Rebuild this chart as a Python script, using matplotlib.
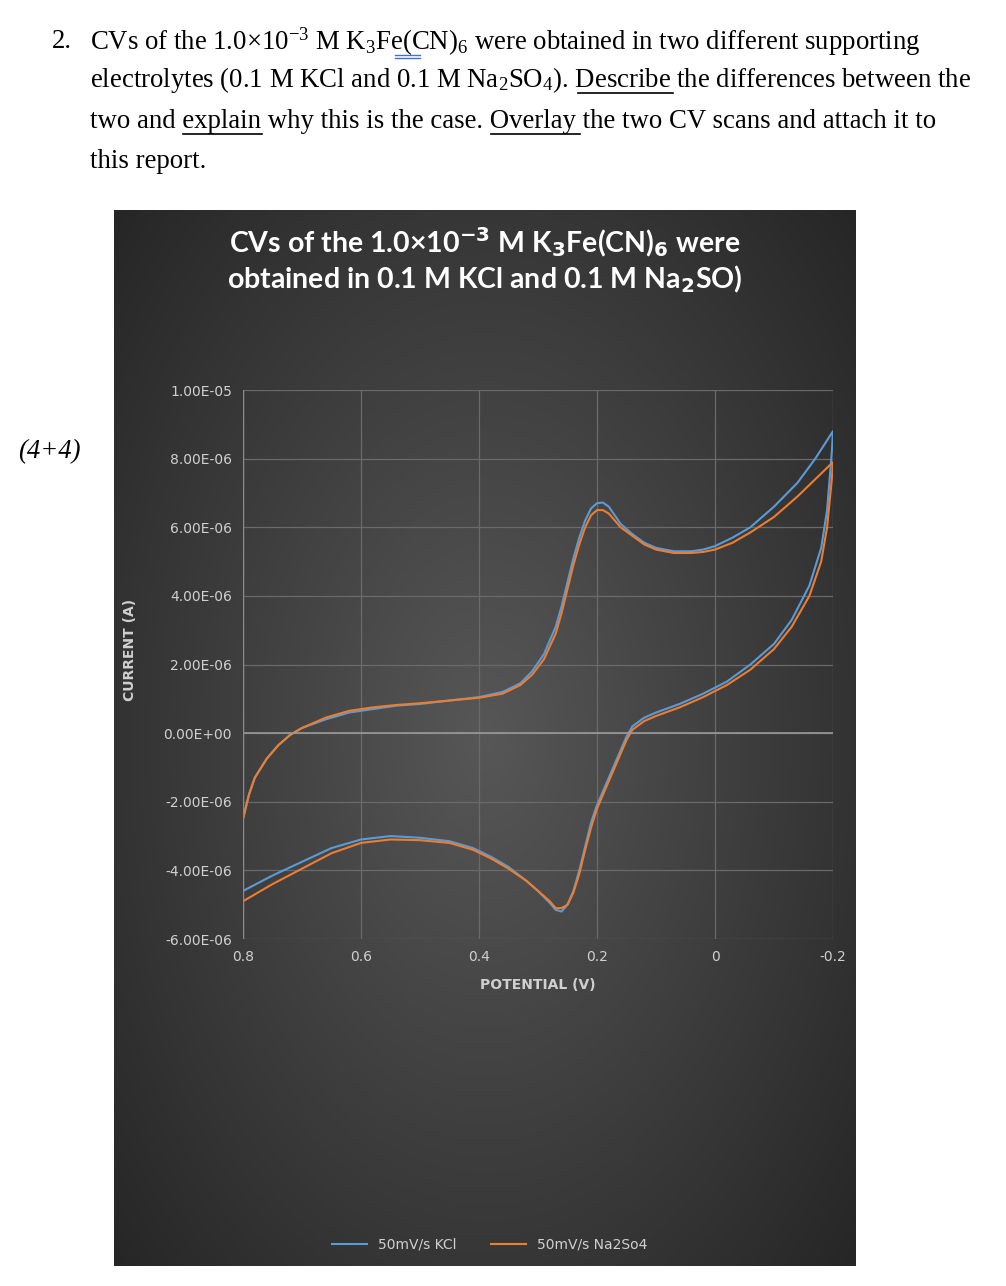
import numpy as np
import matplotlib
matplotlib.use("Agg")
import matplotlib.pyplot as plt
from matplotlib.lines import Line2D
from matplotlib.colors import LinearSegmentedColormap

plt.rcParams['mathtext.default'] = 'regular'

# KCl scan (forward then return), potential in V, current in A
kcl_v = [0.80, 0.79, 0.78, 0.76, 0.74, 0.72, 0.70, 0.66, 0.62, 0.58, 0.54, 0.50, 0.45, 0.40, 0.36, 0.33,
         0.31, 0.29, 0.27, 0.26, 0.25, 0.24, 0.23, 0.22, 0.21, 0.20, 0.19, 0.18, 0.17, 0.16,
         0.14, 0.12, 0.10, 0.07, 0.04, 0.02, 0.00, -0.03, -0.06, -0.10, -0.14, -0.17, -0.20,
         -0.198, -0.19, -0.18, -0.16, -0.13, -0.10, -0.06, -0.02, 0.02, 0.06, 0.10, 0.12, 0.14,
         0.15, 0.16, 0.18, 0.20, 0.21, 0.22, 0.23, 0.24, 0.25, 0.26, 0.27, 0.28, 0.30, 0.32,
         0.35, 0.38, 0.41, 0.45, 0.50, 0.55, 0.60, 0.65, 0.70, 0.75, 0.80]
kcl_i = [-2.5, -1.8, -1.3, -0.75, -0.35, -0.05, 0.15, 0.4, 0.6, 0.7, 0.8, 0.85, 0.95, 1.05, 1.2, 1.45,
         1.8, 2.3, 3.1, 3.7, 4.4, 5.1, 5.7, 6.2, 6.55, 6.7, 6.72, 6.6, 6.35, 6.1,
         5.8, 5.55, 5.4, 5.3, 5.3, 5.35, 5.45, 5.7, 6.0, 6.6, 7.3, 8.0, 8.8,
         8.2, 6.5, 5.4, 4.3, 3.3, 2.6, 2.0, 1.5, 1.15, 0.85, 0.6, 0.45, 0.2,
         -0.1, -0.5, -1.3, -2.1, -2.6, -3.3, -4.0, -4.6, -5.0, -5.2, -5.15, -4.95, -4.6, -4.3,
         -3.9, -3.6, -3.35, -3.15, -3.05, -3.0, -3.1, -3.35, -3.75, -4.15, -4.6]
kcl_i = [x * 1e-6 for x in kcl_i]

# Na2SO4 scan
na_v = list(kcl_v)
na_i = [-2.5, -1.8, -1.3, -0.75, -0.35, -0.05, 0.15, 0.45, 0.65, 0.75, 0.82, 0.87, 0.95, 1.03, 1.15, 1.4,
        1.7, 2.15, 2.9, 3.5, 4.2, 4.9, 5.5, 6.0, 6.35, 6.5, 6.5, 6.4, 6.2, 6.0,
        5.75, 5.5, 5.35, 5.25, 5.25, 5.28, 5.35, 5.55, 5.85, 6.3, 6.9, 7.4, 7.9,
        7.4, 6.0, 5.0, 4.0, 3.1, 2.45, 1.85, 1.4, 1.05, 0.75, 0.5, 0.35, 0.1,
        -0.2, -0.6, -1.4, -2.2, -2.75, -3.4, -4.1, -4.65, -5.0, -5.1, -5.1, -4.9, -4.6, -4.3,
        -3.95, -3.65, -3.4, -3.2, -3.12, -3.1, -3.2, -3.5, -3.95, -4.4, -4.9]
na_i = [x * 1e-6 for x in na_i]

y_ticks = [1e-5, 8e-6, 6e-6, 4e-6, 2e-6, 0, -2e-6, -4e-6, -6e-6]
y_labels = ["1.00E-05", "8.00E-06", "6.00E-06", "4.00E-06", "2.00E-06",
            "0.00E+00", "-2.00E-06", "-4.00E-06", "-6.00E-06"]
x_ticks = [0.8, 0.6, 0.4, 0.2, 0, -0.2]
x_labels = ["0.8", "0.6", "0.4", "0.2", "0", "-0.2"]

W, H = 1006, 1286
fig = plt.figure(figsize=(W / 100, H / 100), dpi=100)
fig.patch.set_facecolor("white")

# document text
serif = ["Liberation Serif", "DejaVu Serif"]
fs = 19.3
lines = [
    (90, 42, r"CVs of the 1.0$\times$10$^{-3}$ M K$_3$Fe(CN)$_6$ were obtained in two different supporting"),
    (90, 80, r"electrolytes (0.1 M KCl and 0.1 M Na$_2$SO$_4$). Describe the differences between the"),
    (90, 121, "two and explain why this is the case. Overlay the two CV scans and attach it to"),
    (90, 161, "this report."),
]
fig.text(52 / W, 1 - 42 / H, "2.", family=serif, fontsize=fs, va="center")
for x, y, s in lines:
    fig.text(x / W, 1 - y / H, s, family=serif, fontsize=fs, va="center")
fig.text(18 / W, 1 - 452 / H, "(4+4)", family=serif, fontsize=fs, style="italic", va="center")
for x0, x1, y in [(578, 673, 93), (183, 262, 134), (491, 580, 134)]:
    fig.add_artist(Line2D([x0 / W, x1 / W], [1 - y / H, 1 - y / H], color="black", lw=1.2))
fig.add_artist(Line2D([395 / W, 420 / W], [1 - 55 / H, 1 - 55 / H], color="#4472c4", lw=1))
fig.add_artist(Line2D([395 / W, 420 / W], [1 - 58 / H, 1 - 58 / H], color="#4472c4", lw=1))

# dark chart panel with radial gradient
px0, px1, py0, py1 = 114, 856, 210, 1266
bg = fig.add_axes([px0 / W, 1 - py1 / H, (px1 - px0) / W, (py1 - py0) / H])
yy, xx = np.mgrid[-1:1:300j, -1:1:300j]
r = np.sqrt(xx ** 2 + (yy * 0.9) ** 2)
cmap = LinearSegmentedColormap.from_list("panel", ["#575757", "#262626"])
bg.imshow(np.clip(r, 0, 1.35), cmap=cmap, vmin=0, vmax=1.35, aspect="auto",
          extent=[0, 1, 0, 1], interpolation="bilinear")
bg.set_axis_off()

title = (r"CVs of the 1.0×10$^{\mathbf{-3}}$ M K$_\mathbf{3}$Fe(CN)$_\mathbf{6}$ were" + "\n"
         r"obtained in 0.1 M KCl and 0.1 M Na$_\mathbf{2}$SO)")
fig.text(485 / W, 1 - 260 / H, title, color="white", fontsize=20.5, fontweight="bold",
         family="Lato", ha="center", va="center", linespacing=1.2)

ax = fig.add_axes([243 / W, 1 - 939 / H, (833 - 243) / W, (939 - 390) / H])
ax.patch.set_alpha(0)
ax.plot(kcl_v, kcl_i, color="#5b9bd5", lw=1.5, label="50mV/s KCl")
ax.plot(na_v, na_i, color="#ed7d31", lw=1.5, label="50mV/s Na2So4")
ax.set_xlim(0.8, -0.2)
ax.set_ylim(-6e-6, 1e-5)
ax.set_xticks(x_ticks)
ax.set_xticklabels(x_labels)
ax.set_yticks(y_ticks)
ax.set_yticklabels(y_labels)
ax.grid(True, color="#6a6a6a", lw=0.9)
ax.axhline(0, color="#9a9a9a", lw=1.2)
ax.set_axisbelow(True)
for s in ax.spines.values():
    s.set_visible(False)
ax.axvline(0.8, color="#8a8a8a", lw=1)
ax.tick_params(length=0, colors="#d0d0d0", labelsize=10, pad=8)
ax.set_xlabel("POTENTIAL (V)", color="#d0d0d0", fontsize=10, fontweight="bold", labelpad=10)
fig.text(130 / W, 1 - 650 / H, "CURRENT (A)", color="#d0d0d0", fontsize=10,
         fontweight="bold", rotation=90, ha="center", va="center")

leg = fig.legend(loc="center", bbox_to_anchor=(490 / W, 1 - 1245 / H), ncol=2, frameon=False,
                 fontsize=10, handlelength=2.5, columnspacing=2.5, labelcolor="#d0d0d0")

fig.savefig("out.png", dpi=100)
